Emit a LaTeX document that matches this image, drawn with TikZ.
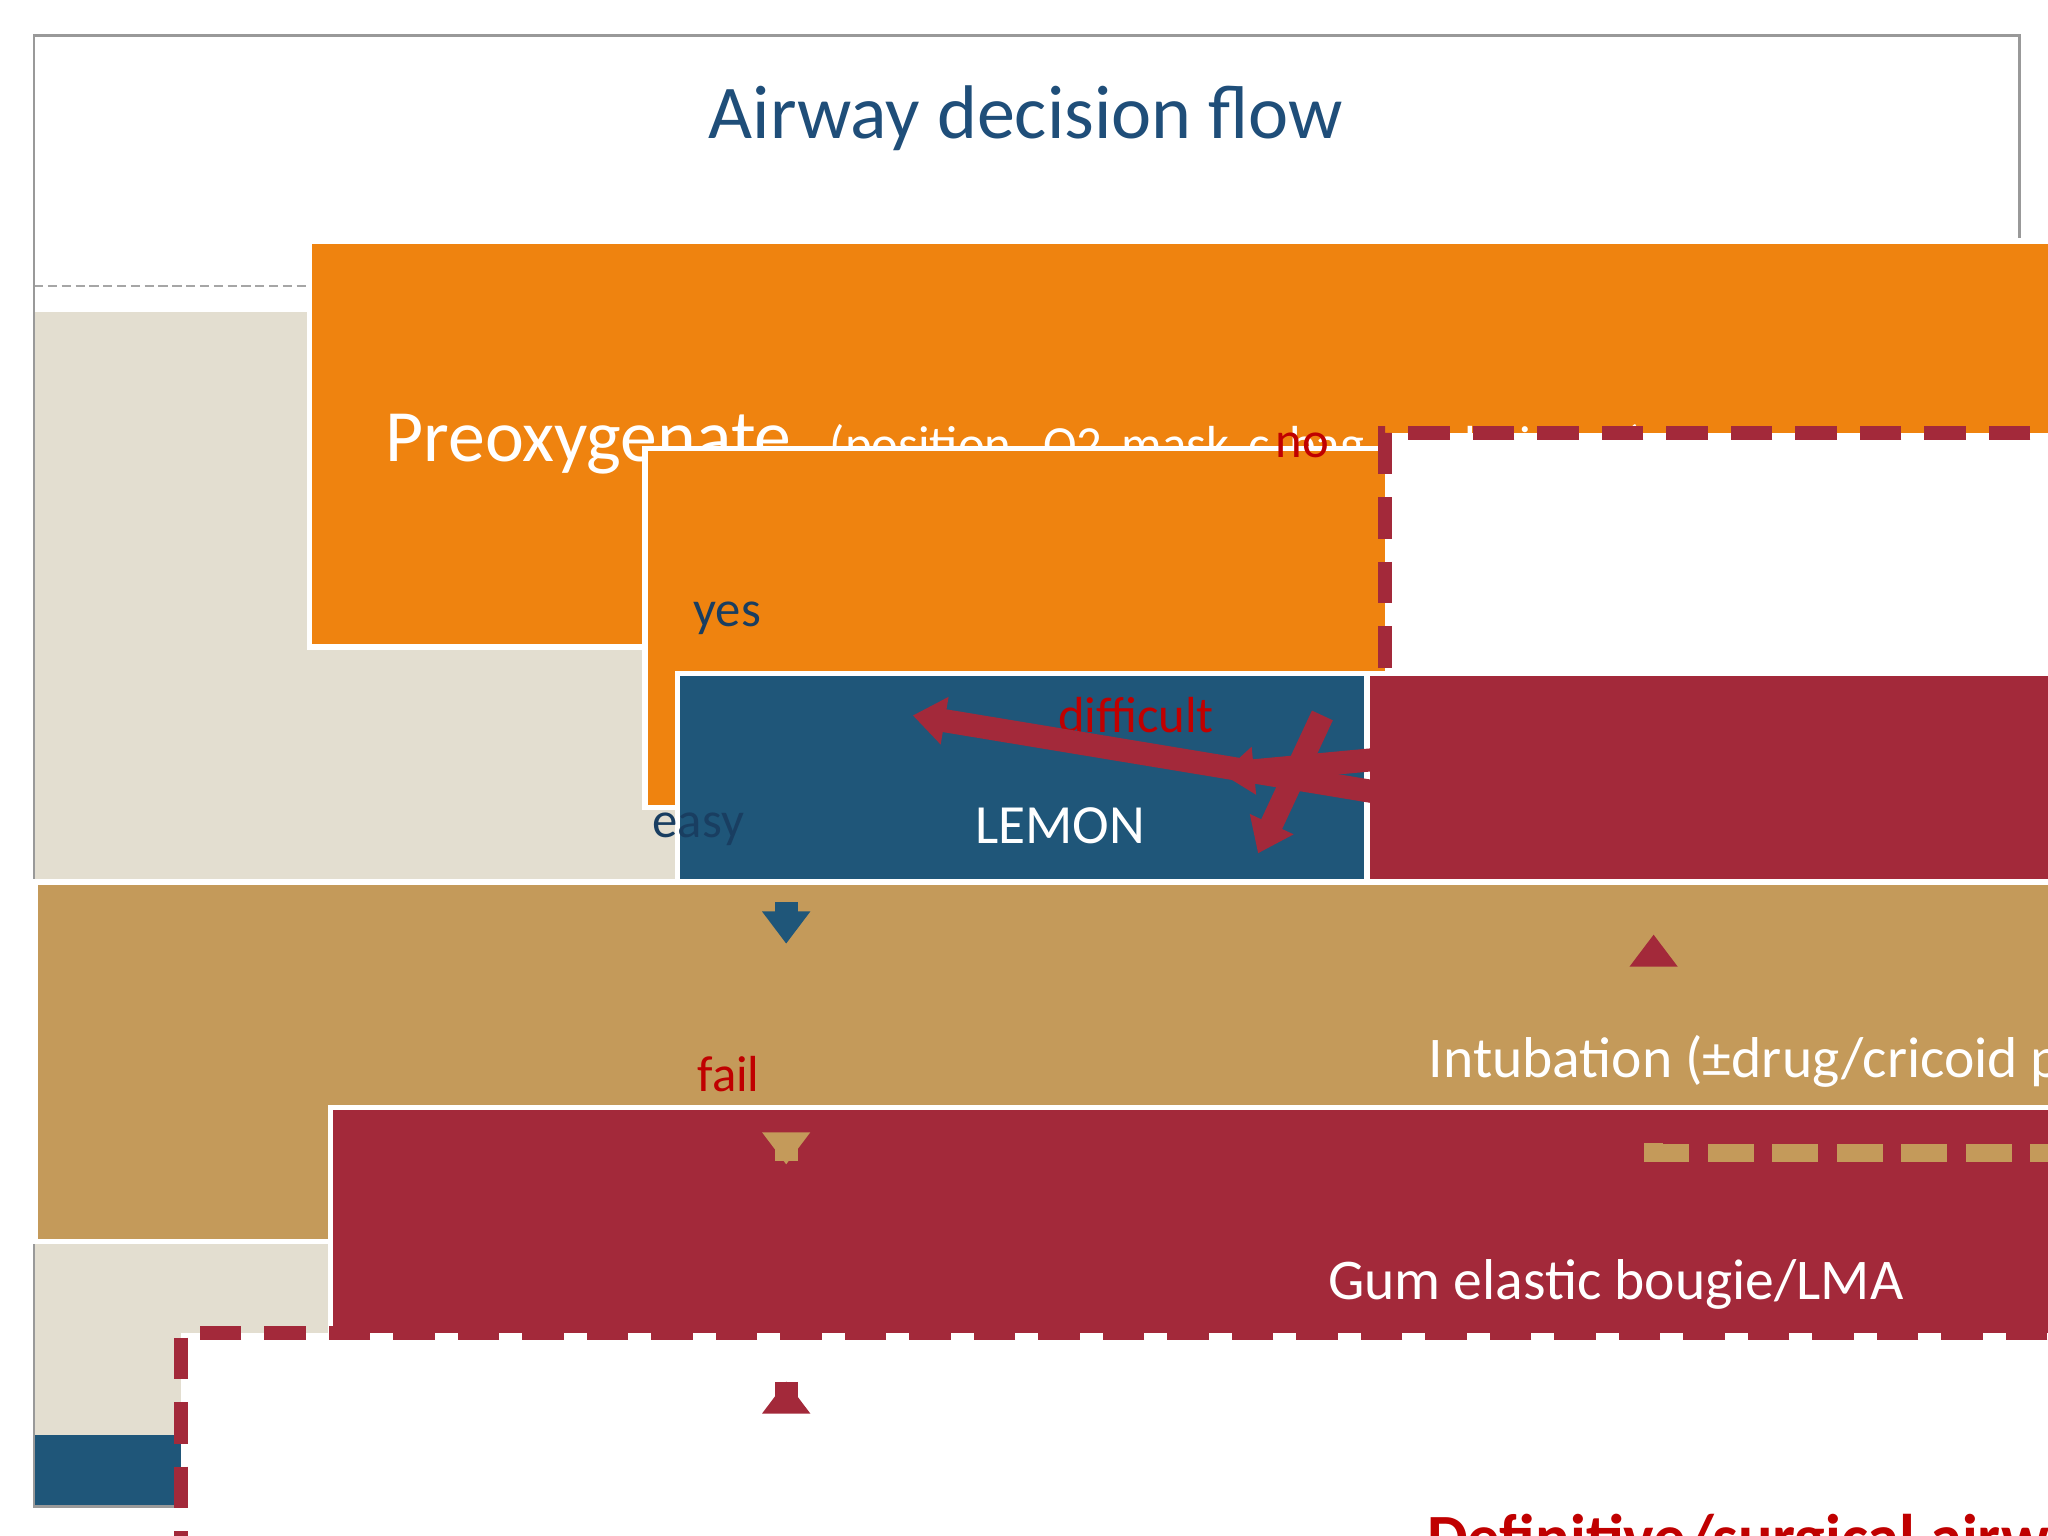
\documentclass[tikz,border=0pt]{standalone}
\usepackage{fontspec}
\setmainfont{Carlito}
\usetikzlibrary{arrows.meta,positioning}
\definecolor{navy}{HTML}{1F5679}
\definecolor{titleblue}{HTML}{1F4E79}
\definecolor{paper}{HTML}{E3DED0}
\definecolor{orng}{HTML}{EF830F}
\definecolor{wine}{HTML}{A3293A}
\definecolor{tan}{HTML}{C49A5A}
\definecolor{redtxt}{HTML}{C00000}
\begin{document}
\begin{tikzpicture}[x=0.01cm,y=-0.01cm,>={Triangle[length=7pt,width=10pt]}]
\tikzset{
	box/.style={rectangle,draw=white,line width=1.2pt,text=white,inner sep=0,anchor=north west,
		font=\fontsize{12.5}{15}\selectfont},
	orange box/.style={box,fill=orng},
	wine box/.style={box,fill=wine},
	tan box/.style={box,fill=tan},
	navy box/.style={box,fill=navy},
	goal box/.style={rectangle,draw=wine,dash pattern=on 9pt off 5pt,line width=3pt,fill=white,
		text=redtxt,inner sep=0,anchor=north west,font=\bfseries},
	flow arrow/.style={->,line width=5pt},
	edge text/.style={font=\fontsize{11}{13}\selectfont}
}
\useasboundingbox (0,0) rectangle (1563,1172);
% slide background
\fill[white] (0,0) rectangle (1563,1172);
\fill[paper] (26,238) rectangle (1541,1095);
\fill[navy] (26,1095) rectangle (1541,1150);
\draw[gray!70,dash pattern=on 2pt off 1pt] (26,218) -- (1541,218);
\draw[gray!80,line width=0.6pt] (26,27) rectangle (1541,1150);
\node[text=titleblue,font=\fontsize{16.5}{20}\selectfont] (title) at (783,90) {Airway decision flow};

% boxes
\node[orange box,minimum width=1063,minimum height=88,text width=1030,align=left] (pre) at (234,182)
	{\fontsize{16}{19}\selectfont Preoxygenate\ \ \fontsize{11}{13}\selectfont(position, O2 mask c bag, oral airway)};
\node[orange box,minimum width=440,minimum height=78] (able) at (490,340) {Able to oxygenate?};
\node[goal box,minimum width=395,minimum height=148,text width=360,align=left,
	font=\bfseries\fontsize{12}{17}\selectfont] (def1) at (1052,325) {Definitive/\\surgical airway};
\node[navy box,minimum width=166,minimum height=66,font=\fontsize{12}{14}\selectfont] (lemon) at (515,512) {LEMON};
\node[wine box,minimum width=412,minimum height=78] (call) at (1041,512) {Call for assistance};
\node[tan box,minimum width=407,minimum height=78] (awake) at (1053,678) {Awake intubation};
\node[tan box,minimum width=783,minimum height=78] (intub) at (25,671) {Intubation (\textpm drug/cricoid pressure)};
\node[wine box,minimum width=558,minimum height=77] (gum) at (250,843) {Gum elastic bougie/LMA};
\node[goal box,minimum width=689,minimum height=91,font=\bfseries\fontsize{14}{17}\selectfont] (def2) at (133,1012)
	{Definitive/surgical airway};

% labels
\node[edge text,text=redtxt] (no) at (994,340) {no};
\node[edge text,text=titleblue!80!black] (yes) at (555,472) {yes};
\node[edge text,text=redtxt] (diff) at (867,546) {difficult};
\node[edge text,text=titleblue!80!black] (easy) at (533,633) {easy};
\node[edge text,text=redtxt] (fail) at (556,820) {fail};
\coordinate (bend) at (1262,880);
\coordinate (mid) at (600,0);

% connectors
\draw[flow arrow,orng] ([yshift=8]pre.south -| 723,0) -- ([yshift=-4]able.north -| 723,0);
\draw[flow arrow,wine] ([xshift=25]able.east) -- ([xshift=-34]def1.west);
\draw[flow arrow,navy] ([yshift=7]able.south -| mid) -- ([yshift=-25]lemon.north -| mid);
\draw[flow arrow,wine] ([xshift=29]lemon.east) -- ([xshift=-28]diff.west);
\draw[flow arrow,wine] ([xshift=20]diff.east) -- ([xshift=-23]call.west);
\draw[flow arrow,wine] ([yshift=18]call.south -| bend) -- ([yshift=-10]awake.north -| bend);
\draw[flow arrow,navy] ([yshift=17]lemon.south -| mid) -- ([yshift=-14]intub.north -| mid);
\draw[flow arrow,tan] ([yshift=18]intub.south -| mid) -- ([yshift=-13]gum.north -| mid);
\draw[->,tan,line width=4pt,dash pattern=on 10pt off 4pt] ([yshift=24]awake.south -| bend) -- (bend) -- ([xshift=64]gum.east |- bend);
\draw[flow arrow,wine] ([yshift=18]gum.south -| mid) -- ([yshift=-12]def2.north -| mid);
\end{tikzpicture}
\end{document}
